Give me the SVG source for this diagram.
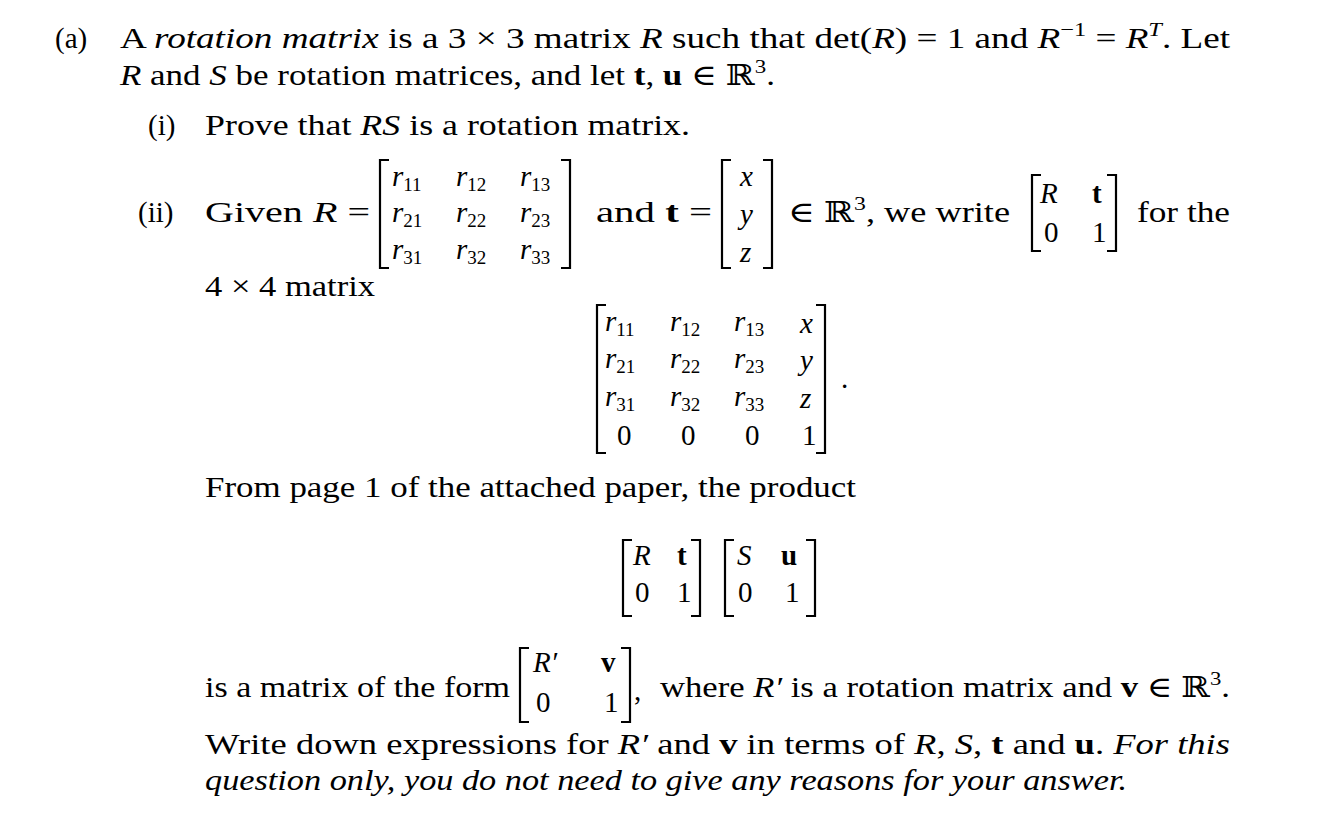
<svg xmlns="http://www.w3.org/2000/svg" width="1322" height="816" viewBox="0 0 1322 816">
<style>
text{font-family:"Liberation Serif","Times New Roman","DejaVu Serif",serif;font-size:29px;fill:#000}
.i{font-style:italic}
.b{font-weight:bold}
.m{font-size:26px}
.s{font-size:19px}
.br{fill:none;stroke:#000;stroke-width:2.2}
</style>
<rect width="1322" height="816" fill="#fff"/>
<text x="55" y="48">(a)</text>
<text x="120" y="48" textLength="1110" lengthAdjust="spacingAndGlyphs">A <tspan class="i">rotation matrix</tspan> is a 3 × 3 matrix <tspan class="i">R</tspan> such that det(<tspan class="i">R</tspan>) = 1 and <tspan class="i">R</tspan><tspan class="s" dy="-12">−1</tspan><tspan dy="12"> = </tspan><tspan class="i">R</tspan><tspan class="s i" dy="-12">T</tspan><tspan dy="12">. Let</tspan></text>
<text x="120" y="85" textLength="655" lengthAdjust="spacingAndGlyphs"><tspan class="i">R</tspan> and <tspan class="i">S</tspan> be rotation matrices, and let <tspan class="b">t</tspan>, <tspan class="b">u</tspan> ∈ ℝ<tspan class="s" dy="-12">3</tspan><tspan dy="12">.</tspan></text>
<text x="148" y="135">(i)</text>
<text x="205" y="135" textLength="485" lengthAdjust="spacingAndGlyphs">Prove that <tspan class="i">RS</tspan> is a rotation matrix.</text>
<text x="138" y="222">(ii)</text>
<text x="205" y="222" textLength="165" lengthAdjust="spacingAndGlyphs">Given <tspan class="i">R</tspan> =</text>
<path class="br" d="M389 160H380V268H389M561 160H570V268H561"/>
<g class="m i">
<text x="392" y="186">r<tspan class="s" font-style="normal" dy="5">11</tspan></text><text x="456" y="186">r<tspan class="s" font-style="normal" dy="5">12</tspan></text><text x="520" y="186">r<tspan class="s" font-style="normal" dy="5">13</tspan></text>
<text x="392" y="222">r<tspan class="s" font-style="normal" dy="5">21</tspan></text><text x="456" y="222">r<tspan class="s" font-style="normal" dy="5">22</tspan></text><text x="520" y="222">r<tspan class="s" font-style="normal" dy="5">23</tspan></text>
<text x="392" y="259">r<tspan class="s" font-style="normal" dy="5">31</tspan></text><text x="456" y="259">r<tspan class="s" font-style="normal" dy="5">32</tspan></text><text x="520" y="259">r<tspan class="s" font-style="normal" dy="5">33</tspan></text>
</g>
<text x="596" y="222" textLength="116" lengthAdjust="spacingAndGlyphs">and <tspan class="b">t</tspan> =</text>
<path class="br" d="M731 160H722V268H731M763 160H772V268H763"/>
<g class="m i"><text x="740" y="186">x</text><text x="740" y="224">y</text><text x="740" y="262">z</text></g>
<text x="788" y="222" textLength="222" lengthAdjust="spacingAndGlyphs">∈ ℝ<tspan class="s" dy="-12">3</tspan><tspan dy="12">, we write</tspan></text>
<path class="br" d="M1041 175H1032V251H1041M1107 175H1116V251H1107"/>
<g class="m"><text x="1040" y="203" class="i">R</text><text x="1092" y="203" class="b" font-size="24">t</text><text x="1044" y="242">0</text><text x="1092" y="242">1</text></g>
<text x="1137" y="222" textLength="93" lengthAdjust="spacingAndGlyphs">for the</text>
<text x="205" y="296" textLength="170" lengthAdjust="spacingAndGlyphs">4 × 4 matrix</text>
<path class="br" d="M606 305H597V453H606M816 305H825V453H816"/>
<g class="m">
<text x="605" y="331" class="i">r<tspan class="s" font-style="normal" dy="5">11</tspan></text><text x="670" y="331" class="i">r<tspan class="s" font-style="normal" dy="5">12</tspan></text><text x="734" y="331" class="i">r<tspan class="s" font-style="normal" dy="5">13</tspan></text><text x="800" y="333" class="i">x</text>
<text x="605" y="368" class="i">r<tspan class="s" font-style="normal" dy="5">21</tspan></text><text x="670" y="368" class="i">r<tspan class="s" font-style="normal" dy="5">22</tspan></text><text x="734" y="368" class="i">r<tspan class="s" font-style="normal" dy="5">23</tspan></text><text x="800" y="370" class="i">y</text>
<text x="605" y="406" class="i">r<tspan class="s" font-style="normal" dy="5">31</tspan></text><text x="670" y="406" class="i">r<tspan class="s" font-style="normal" dy="5">32</tspan></text><text x="734" y="406" class="i">r<tspan class="s" font-style="normal" dy="5">33</tspan></text><text x="800" y="408" class="i">z</text>
<text x="617" y="445">0</text><text x="681" y="445">0</text><text x="745" y="445">0</text><text x="802" y="445">1</text>
</g>
<text x="841" y="388">.</text>
<text x="205" y="497" textLength="651" lengthAdjust="spacingAndGlyphs">From page 1 of the attached paper, the product</text>
<path class="br" d="M632 540H623V616H632M691 540H700V616H691"/>
<g class="m"><text x="633" y="565" class="i">R</text><text x="677" y="565" class="b" font-size="24">t</text><text x="635" y="602">0</text><text x="677" y="602">1</text></g>
<path class="br" d="M734 540H725V616H734M806 540H815V616H806"/>
<g class="m"><text x="737" y="565" class="i">S</text><text x="781" y="565" class="b" font-size="24">u</text><text x="738" y="602">0</text><text x="785" y="602">1</text></g>
<text x="205" y="697" textLength="305" lengthAdjust="spacingAndGlyphs">is a matrix of the form</text>
<path class="br" d="M529 648H520V722H529M621 648H630V722H621"/>
<g class="m"><text x="533" y="672" class="i">R′</text><text x="601" y="672" class="b" font-size="24">v</text><text x="536" y="712">0</text><text x="604" y="712">1</text></g>
<text x="634" y="700">,</text>
<text x="660" y="697" textLength="570" lengthAdjust="spacingAndGlyphs">where <tspan class="i">R′</tspan> is a rotation matrix and <tspan class="b">v</tspan> ∈ ℝ<tspan class="s" dy="-12">3</tspan><tspan dy="12">.</tspan></text>
<text x="205" y="754" textLength="1025" lengthAdjust="spacingAndGlyphs">Write down expressions for <tspan class="i">R′</tspan> and <tspan class="b">v</tspan> in terms of <tspan class="i">R</tspan>, <tspan class="i">S</tspan>, <tspan class="b">t</tspan> and <tspan class="b">u</tspan>.  <tspan class="i">For this</tspan></text>
<text x="205" y="790" class="i" textLength="922" lengthAdjust="spacingAndGlyphs">question only, you do not need to give any reasons for your answer.</text>
</svg>
